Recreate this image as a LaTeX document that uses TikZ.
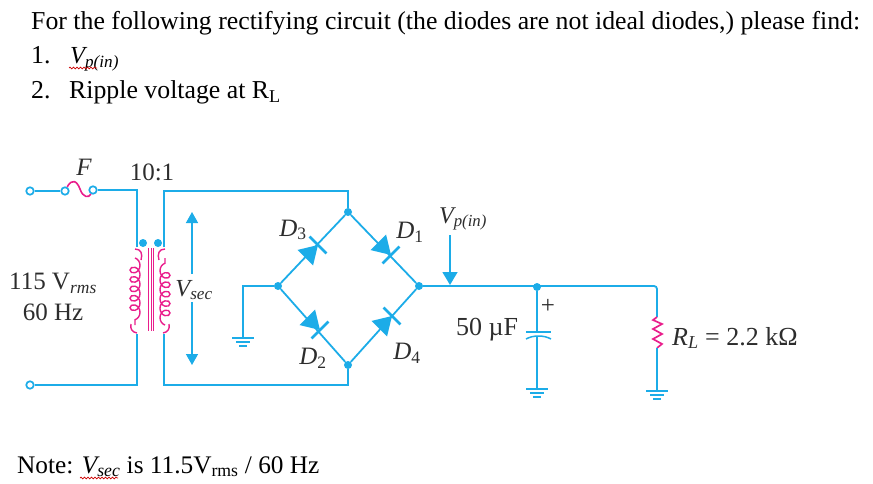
\documentclass[tikz,border=0pt]{standalone}
\usepackage{fontspec}
\setmainfont{Liberation Serif}
\usepackage{tikz}
\usetikzlibrary{arrows.meta,decorations.pathmorphing}

\definecolor{wireblue}{RGB}{28,172,232}
\definecolor{coilpink}{RGB}{233,30,140}
\definecolor{labelgray}{RGB}{45,45,45}
\newcommand{\sized}[1]{\fontsize{#1}{#1}\selectfont}

\begin{document}
\begin{tikzpicture}[
  x=1pt, y=-1pt,
  wire/.style={draw=wireblue, line width=1.8pt},
  pinkline/.style={draw=coilpink, line width=1.4pt},
  terminal/.style={circle, draw=wireblue, fill=white, line width=1.7pt, inner sep=0pt, minimum size=7.5pt},
  junction/.style={circle, fill=wireblue, inner sep=0pt, minimum size=8pt},
  heading/.style={font=\sized{25.8}, text=black, anchor=base west, inner sep=0pt},
  label/.style={font=\sized{25}, text=labelgray, inner sep=0pt},
  winding/.style={pinkline, decorate, decoration={coil, aspect=1, segment length=9.4pt, amplitude=5pt}},
  squiggle/.style={draw=red!80!black, line width=0.7pt, decorate, decoration={snake, segment length=3.5pt, amplitude=0.9pt}},
  voltarrow/.style={wire, line width=1.5pt, -{Triangle[length=11pt, width=12pt]}},
  diode/.pic={
    \fill[wireblue] (0,0) -- (-18,-11) -- (-18,11) -- cycle;
    \draw[wire, line width=2.6pt] (0,-12) -- (0,12);
  },
  ground/.pic={
    \draw[wire, line width=1.5pt] (-11,0) -- (11,0) (-7,4) -- (7,4) (-4,8) -- (4,8);
  }
]
\useasboundingbox (0,0) rectangle (873,484);

% Question text
\node[heading] (title) at (31,30) {For the following rectifying circuit (the diodes are not ideal diodes,) please find:};
\node[heading] (item1) at (31,64) {1.};
\node[heading, font=\sized{24.5}\itshape] (item1v) at (70,64) {V\textsubscript{p(in)}};
\node[heading] (item2) at (31,99) {2.};
\node[heading] (item2t) at (69,99) {Ripple voltage at R\textsubscript{L}};
\node[heading, font=\sized{25.3}] (note) at (17,473) {Note: \textit{V\textsubscript{sec}} is 11.5V\textsubscript{rms} / 60 Hz};
\coordinate (sqa) at (69,68);
\coordinate (sqb) at (97,68);
\coordinate (sqc) at (80,478);
\coordinate (sqd) at (118,478);
\draw[squiggle] (sqa) -- (sqb);
\draw[squiggle] (sqc) -- (sqd);

% Primary side
\node[terminal] (inA) at (30,191) {};
\node[terminal] (fuseL) at (65,191) {};
\node[terminal] (fuseR) at (93,190) {};
\node[terminal] (inB) at (30,385) {};
\coordinate (priTop) at (137,247);
\coordinate (priBot) at (137,334);
\coordinate (secTop) at (164,247);
\coordinate (secBot) at (164,334);
\draw[wire] (inA) -- (fuseL);
\draw[pinkline, line width=1.6pt] (fuseL) .. controls (72,178) and (77,181) .. (80,189) .. controls (83,198) and (89,198) .. (fuseR);
\draw[wire] (fuseR) -| (priTop);
\draw[wire] (inB) -| (priBot);

% Transformer
\draw[winding] (135,258) -- (135,325);
\draw[winding] (165,325) -- (165,258);
\draw[pinkline] (135,249) .. controls (141,249) and (143,254) .. (141,260);
\draw[pinkline] (165,249) .. controls (159,249) and (157,254) .. (159,260);
\draw[pinkline] (131,324) .. controls (130,329) and (132,332) .. (137,333);
\draw[pinkline] (169,324) .. controls (170,329) and (168,332) .. (163,333);
\foreach \cx in {148,151,153.5}
  \draw[pinkline, line width=0.9pt] (\cx,248) -- (\cx,331);
\node[junction] (dotA) at (143,243) {};
\node[junction] (dotB) at (158,243) {};

% Bridge
\node[junction] (top) at (348,212) {};
\node[junction] (left) at (278,286) {};
\node[junction] (right) at (419,286) {};
\node[junction] (bottom) at (348,365) {};
\coordinate (secCorner) at (164,191);
\draw[wire] (secTop) -- (secCorner) -| (top);
\draw[wire] (secBot) |- (348,385) -- (bottom);
\draw[wire] (left) -- (top) -- (right) -- (bottom) -- (left);
\pic[rotate=45] at (318,245) {diode};
\pic[rotate=-45] at (391,255) {diode};
\pic[rotate=-45] at (320,330) {diode};
\pic[rotate=45] at (392,316) {diode};

% Centre tap ground
\coordinate (gndA) at (243,338);
\draw[wire] (left) -| (gndA);
\pic at (gndA) {ground};

% Output
\node[junction] (capTop) at (537,287) {};
\coordinate (loadTop) at (657,286);
\coordinate (loadR) at (657,317);
\coordinate (loadRb) at (657,348);
\coordinate (gndC) at (537,389);
\coordinate (gndL) at (657,391);
\coordinate (capA) at (537,332);
\coordinate (capB) at (537,336);
\draw[wire, rounded corners=3pt] (right) -- (loadTop) -- (loadR);
\draw[wire] (capTop) -- (capA);
\draw[wire, line width=1.5pt] (526,332) -- (551,332);
\draw[wire, line width=1.5pt] (526,339) .. controls (533,335) and (544,335) .. (551,339);
\draw[wire] (capB) -- (gndC);
\pic at (gndC) {ground};
\draw[pinkline, line width=1.7pt] (loadR) -- (653,320) -- (662,324) -- (653,329) -- (662,334) -- (653,339) -- (662,344) -- (loadRb);
\draw[wire] (loadRb) -- (gndL);
\pic at (gndL) {ground};

% Voltage arrows
\coordinate (vsecU) at (192,274);
\coordinate (vsecL) at (192,302);
\coordinate (vsecTip) at (192,212);
\coordinate (vsecTipB) at (192,365);
\draw[voltarrow] (vsecU) -- (vsecTip);
\draw[voltarrow] (vsecL) -- (vsecTipB);
\coordinate (vinS) at (450,235);
\coordinate (vinE) at (450,285);
\draw[voltarrow, -{Triangle[length=13pt, width=15pt]}] (vinS) -- (vinE);

% Labels
\node[label, font=\sized{25}\itshape] (lF) at (84,167) {F};
\node[label] (lRatio) at (152,172) {10:1};
\node[label] (lV) at (53,283) {115 V\textit{\textsubscript{rms}}};
\node[label] (lHz) at (53,312) {60 Hz};
\node[label, font=\sized{24.5}\itshape] (lVsec) at (194,290) {V\textsubscript{sec}};
\node[label, font=\sized{25}\itshape] (lD3) at (293,230) {D\textsubscript{\upshape 3}};
\node[label, font=\sized{25}\itshape] (lD1) at (410,232) {D\textsubscript{\upshape 1}};
\node[label, font=\sized{25}\itshape] (lD2) at (313,358) {D\textsubscript{\upshape 2}};
\node[label, font=\sized{25}\itshape] (lD4) at (407,353) {D\textsubscript{\upshape 4}};
\node[label, font=\sized{24}\itshape] (lVin) at (463,219) {V\textsubscript{p(in)}};
\node[label, font=\sized{26}] (lCap) at (487,330) {50 µF};
\node[label] (lPlus) at (548,306) {+};
\node[label, anchor=west, font=\sized{26}] (lRL) at (672,338) {\textit{R\textsubscript{L}} = 2.2 kΩ};
\end{tikzpicture}
\end{document}
